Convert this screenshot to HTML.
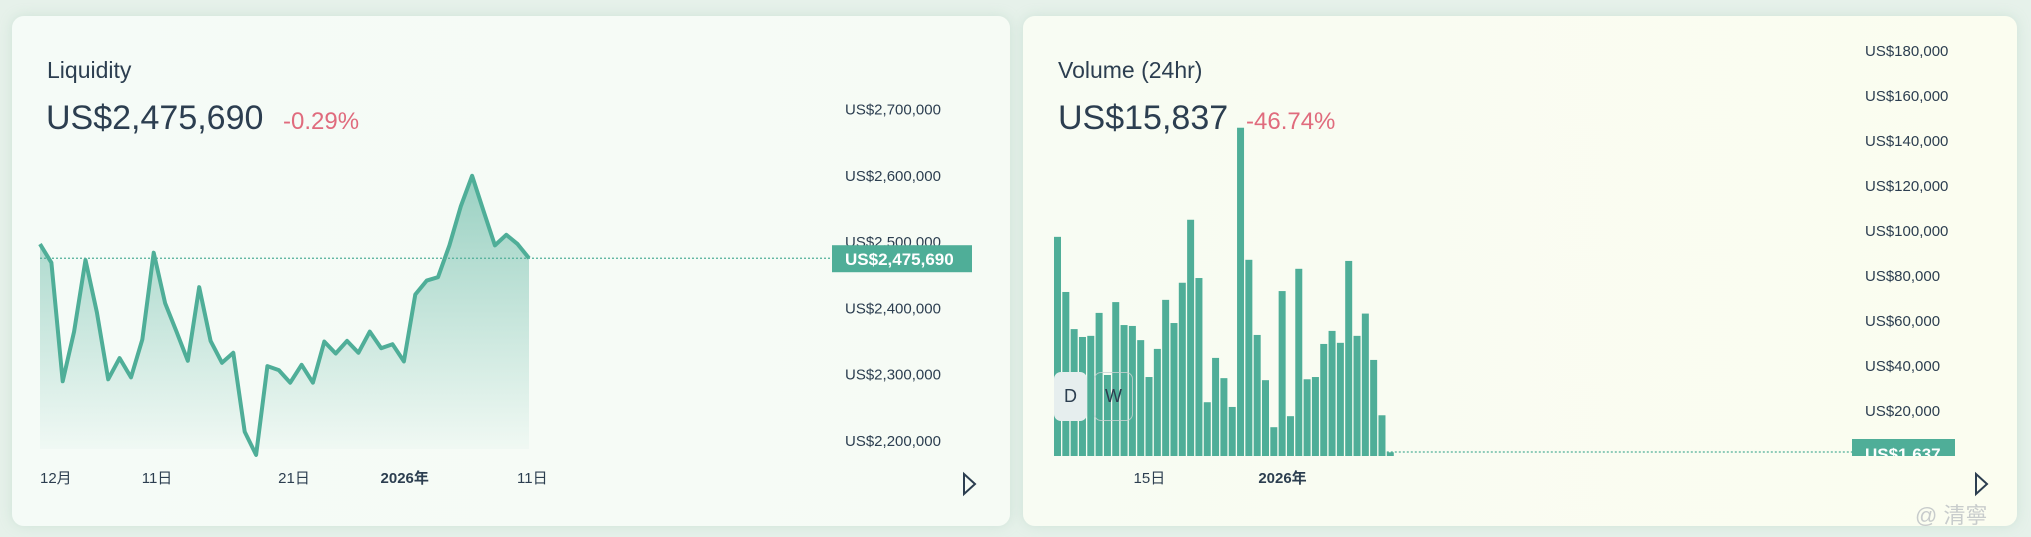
<!DOCTYPE html>
<html><head><meta charset="utf-8"><style>
html,body{margin:0;padding:0;width:2031px;height:537px;overflow:hidden;background:#e6f1ea;font-family:"Liberation Sans","Noto Sans CJK SC",sans-serif;}
.card{position:absolute;top:16px;height:510px;border-radius:12px;box-shadow:0 0 12px rgba(160,200,180,0.35);}
.t{position:absolute;color:#2c3e50;white-space:nowrap;}
</style></head><body>
<div class="card" style="left:12px;width:998px;background:linear-gradient(90deg,#f5fbf7,#f6fbf5);"></div>
<div class="card" style="left:1023px;width:994px;background:linear-gradient(90deg,#f8fcf3,#fbfdf0);"></div>

<div class="t" style="left:47px;top:57px;font-size:23px;">Liquidity</div>
<div class="t" style="left:46px;top:99px;font-size:34px;">US$2,475,690</div>
<div class="t" style="left:283px;top:108px;font-size:24px;color:#e06b7d;">-0.29%</div>

<div class="t" style="left:1058px;top:57px;font-size:23px;">Volume (24hr)</div>
<div class="t" style="left:1058px;top:99px;font-size:34px;">US$15,837</div>
<div class="t" style="left:1246px;top:108px;font-size:24px;color:#e06b7d;">-46.74%</div>

<svg width="2031" height="537" style="position:absolute;left:0;top:0">
<defs><linearGradient id="ag" x1="0" y1="0" x2="0" y2="1"><stop offset="0" stop-color="#4fae98" stop-opacity="0.55"/><stop offset="1" stop-color="#4fae98" stop-opacity="0.02"/></linearGradient></defs>
<g id="liq"></g><g id="vol"></g>
<text x="1915" y="523" font-size="22" fill="#c8cccc" font-family="Liberation Sans, Noto Sans CJK SC, sans-serif">@ 清寧</text>
</svg>

<div style="position:absolute;left:1054px;top:372px;width:33px;height:49px;border-radius:7px;background:#e6eeee;color:#2c3e50;font-size:18px;text-align:center;line-height:49px;">D</div>
<div style="position:absolute;left:1094px;top:372px;width:37px;height:47px;border-radius:7px;border:1px solid rgba(200,210,210,0.8);color:#2c3e50;font-size:18px;text-align:center;line-height:47px;">W</div>

<script>
const liqValues=[2497,2469,2290,2365,2473,2394,2293,2325,2296,2353,2484,2408,2365,2321,2432,2351,2318,2333,2214,2179,2313,2307,2288,2315,2288,2350,2332,2351,2333,2365,2340,2346,2320,2421,2442,2447,2495,2554,2600,2547,2495,2511,2497,2475.69];
const liqTicks=[2200,2300,2400,2500,2600,2700];
const liqTickLabels=["US$2,200,000","US$2,300,000","US$2,400,000","US$2,500,000","US$2,600,000","US$2,700,000"];
const liqXLabels=["12月","11日","21日","2026年","11日"];
const liqXIdx=[0,10,22,31,43];
const volValues=[97.4,72.9,56.4,52.9,53.4,63.6,36.0,68.4,58.2,57.8,51.5,35.1,47.6,69.4,59.1,77.0,105.0,79.1,23.9,43.6,34.6,21.8,145.9,87.2,53.8,33.7,12.8,73.3,17.7,83.2,34.1,35.1,49.8,55.6,50.3,86.7,53.4,63.3,42.7,18.1,1.637];
const volTicks=[20,40,60,80,100,120,140,160,180];
const volTickLabels=["US$20,000","US$40,000","US$60,000","US$80,000","US$100,000","US$120,000","US$140,000","US$160,000","US$180,000"];
const volXLabels=["15日","2026年"];
const volXIdx=[11,26];

const NS="http://www.w3.org/2000/svg";
function mk(p,tag,a){const e=document.createElementNS(NS,tag);for(const k in a)e.setAttribute(k,a[k]);p.appendChild(e);return e;}
const FF="Liberation Sans, Noto Sans CJK SC, sans-serif";
// Liquidity
const L=document.getElementById('liq');
const lx=i=>40+i*(489/(liqValues.length-1));
const ly=v=>441-(v-2200)*0.663;
let pts=liqValues.map((v,i)=>lx(i).toFixed(1)+","+ly(v).toFixed(1));
const area=mk(L,'path',{d:"M"+lx(0)+",449 L"+pts.join(" L")+" L"+lx(liqValues.length-1)+",449 Z",fill:"url(#ag)"});


const lastY=ly(liqValues[liqValues.length-1]);
const dl=mk(L,'line',{x1:40,x2:832,y1:lastY,y2:lastY,stroke:"#4fae98","stroke-width":1.3,"stroke-dasharray":"2,2"});


const line=mk(L,'polyline',{points:pts.join(" "),fill:"none",stroke:"#4fae98","stroke-width":4,"stroke-linejoin":"round"});


liqTicks.forEach((v,i)=>{const t=mk(L,'text',{x:845,y:ly(v)+5,"font-size":15,fill:"#2c3e50","font-family":FF});t.textContent=liqTickLabels[i];

});
const lb=mk(L,'rect',{x:832,y:lastY-13,width:140,height:27,fill:"#4fae98"});


const lbt=mk(L,'text',{x:845,y:lastY+7,"font-size":17,fill:"#fff","font-weight":"bold","font-family":FF});lbt.textContent="US$2,475,690";
liqXLabels.forEach((s,i)=>{const t=mk(L,'text',{x:lx(liqXIdx[i])+(i==0?0:-12),y:483,"font-size":15,fill:"#2c3e50","font-family":FF,"font-weight":s.includes("年")?"bold":"normal"});t.textContent=s;

});
const p1=mk(L,'path',{d:"M964,474 L975,484 L964,494 Z",fill:"none",stroke:"#2c3e50","stroke-width":2});


// Volume
const V=document.getElementById('vol');
const vx=i=>1054+i*8.32;
const vy=v=>456-v*2.25;
volValues.forEach((v,i)=>{const r=mk(V,'rect',{x:vx(i),y:vy(v),width:7,height:456-vy(v),fill:"#4fae98"});

});
const vl=volValues[volValues.length-1];
const dv=mk(V,'line',{x1:vx(volValues.length-1),x2:1852,y1:452,y2:452,stroke:"#4fae98","stroke-width":1.3,"stroke-dasharray":"2,2"});


volTicks.forEach((v,i)=>{const t=mk(V,'text',{x:1865,y:vy(v)+5,"font-size":15,fill:"#2c3e50","font-family":FF});t.textContent=volTickLabels[i];

});
const vb=mk(V,'rect',{x:1852,y:439,width:103,height:17,fill:"#4fae98"});


const cp=mk(V,'clipPath',{id:"vc"});mk(cp,'rect',{x:1852,y:439,width:103,height:17});
const vbt=mk(V,'text',{x:1865,y:460,"font-size":17,fill:"#fff","font-weight":"bold","font-family":FF,"clip-path":"url(#vc)"});vbt.textContent="US$1,637";
volXLabels.forEach((s,i)=>{const t=mk(V,'text',{x:vx(volXIdx[i])-12,y:483,"font-size":15,fill:"#2c3e50","font-family":FF,"font-weight":s.includes("年")?"bold":"normal"});t.textContent=s;

});
const p2=mk(V,'path',{d:"M1976,474 L1987,484 L1976,494 Z",fill:"none",stroke:"#2c3e50","stroke-width":2});


</script>
</body></html>
